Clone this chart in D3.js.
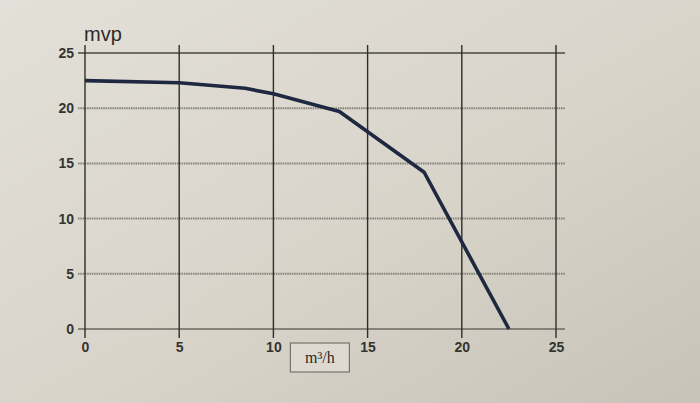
<!DOCTYPE html>
<html lang="en">
<head>
<meta charset="UTF-8">
<title>Pump curve</title>
<script src="https://d3js.org/d3.v7.min.js"></script>
<style>
  body { margin: 0; }
  svg { display: block; }
</style>
</head>
<body>
<script>
// values
var flow = [0, 5, 8.5, 10, 13.5, 18, 22.5];        // m3/h
var head = [22.5, 22.3, 21.8, 21.3, 19.7, 14.2, 0]; // mvp
var xTicks = [0, 5, 10, 15, 20, 25];
var yTicks = [0, 5, 10, 15, 20, 25];
var xUnit = "m³/h";
var yUnit = "mvp";

var W = 700, H = 403;
var margin = {top: 53, right: 144, bottom: 74, left: 85},
    width = W - margin.left - margin.right,
    height = H - margin.top - margin.bottom;

var svg = d3.select("body").append("svg")
    .attr("width", W)
    .attr("height", H);

// paper background
var grad = svg.append("defs").append("linearGradient")
    .attr("id", "paper").attr("x1", "0").attr("y1", "0").attr("x2", "1").attr("y2", "1");
grad.append("stop").attr("offset", "0%").attr("stop-color", "#e3e0d9");
grad.append("stop").attr("offset", "55%").attr("stop-color", "#d8d4ca");
grad.append("stop").attr("offset", "100%").attr("stop-color", "#c8c3b7");
svg.append("rect").attr("width", W).attr("height", H).attr("fill", "url(#paper)");

var g = svg.append("g")
    .attr("transform", "translate(" + margin.left + "," + margin.top + ")");

var x = d3.scaleLinear().domain([0, 25]).range([0, width]);
var y = d3.scaleLinear().domain([0, 25]).range([height, 0]);

// horizontal grid lines (dotted), top and bottom solid
g.append("g").selectAll("line")
  .data(yTicks)
  .enter().append("line")
    .attr("x1", -7)
    .attr("x2", width + 9)
    .attr("y1", function(d) { return y(d); })
    .attr("y2", function(d) { return y(d); })
    .attr("stroke", function(d) { return d == 25 ? "#4a4740" : "#85827a"; })
    .attr("stroke-width", function(d) { return d == 25 ? 1.4 : 2; })
    .attr("stroke-dasharray", function(d) { return (d == 0 || d == 25) ? null : "1.5,0.8"; });

// vertical grid lines (solid)
g.append("g").selectAll("line")
  .data(xTicks)
  .enter().append("line")
    .attr("x1", function(d) { return x(d); })
    .attr("x2", function(d) { return x(d); })
    .attr("y1", -8)
    .attr("y2", height + 9)
    .attr("stroke", "#2f2d29")
    .attr("stroke-width", 1.4);

// axes text only
var yAxis = g.append("g")
    .call(d3.axisLeft(y).tickValues(yTicks).tickSize(0).tickPadding(11));
var xAxis = g.append("g")
    .attr("transform", "translate(0," + height + ")")
    .call(d3.axisBottom(x).tickValues(xTicks).tickSize(0).tickPadding(13));
[xAxis, yAxis].forEach(function(a) {
  a.select(".domain").remove();
  a.selectAll("text")
    .attr("fill", "#35332f")
    .style("font-family", "Liberation Sans, Arial, sans-serif")
    .style("font-size", "14px")
    .style("font-weight", "bold");
});

// curve
var line = d3.line()
    .x(function(d, i) { return x(flow[i]); })
    .y(function(d) { return y(d); });

g.append("path")
    .datum(head)
    .attr("fill", "none")
    .attr("stroke", "#1e2840")
    .attr("stroke-width", 3.6)
    .attr("stroke-linejoin", "round")
    .attr("d", line);

// unit labels
g.append("text")
    .attr("x", -1)
    .attr("y", -12)
    .attr("fill", "#2c2a27")
    .style("font-family", "Liberation Sans, Arial, sans-serif")
    .style("font-size", "20px")
    .text(yUnit);

var box = g.append("g")
    .attr("transform", "translate(" + (x(10) + 17) + "," + (height + 14) + ")");
box.append("rect")
    .attr("width", 59).attr("height", 29)
    .attr("fill", "#dedad2")
    .attr("stroke", "#77746c")
    .attr("stroke-width", 1.2);
box.append("text")
    .attr("x", 29.5).attr("y", 20)
    .attr("text-anchor", "middle")
    .attr("fill", "#2c2a27")
    .style("font-family", "Liberation Serif, Times New Roman, serif")
    .style("font-size", "16px")
    .text(xUnit);
</script>
</body>
</html>
